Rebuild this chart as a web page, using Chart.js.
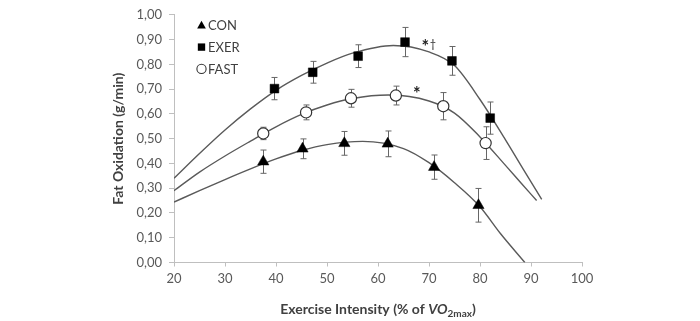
<!DOCTYPE html>
<html>
<head>
<meta charset="utf-8">
<script src="https://cdn.jsdelivr.net/npm/chart.js"></script>
<style>
  html, body { margin: 0; padding: 0; background: #ffffff; }
  #wrap { width: 700px; height: 321px; }
</style>
</head>
<body>
<div id="wrap"><canvas id="c" width="700" height="321"></canvas></div>
<script>
// ---- Data ----
const seriesNames = ['CON', 'EXER', 'FAST'];

const conX   = [37.5, 45.2, 53.4, 61.9, 71.0, 79.7];
const conY   = [0.407, 0.459, 0.481, 0.479, 0.385, 0.231];
const conErr = [0.047, 0.040, 0.048, 0.052, 0.049, 0.068];

const exerX   = [39.7, 47.2, 56.1, 65.3, 74.5, 82.0];
const exerY   = [0.702, 0.768, 0.833, 0.890, 0.814, 0.583];
const exerErr = [0.045, 0.044, 0.046, 0.059, 0.058, 0.065];

const fastX   = [37.5, 45.9, 54.7, 63.5, 72.8, 81.1];
const fastY   = [0.521, 0.606, 0.663, 0.674, 0.631, 0.482];
const fastErr = [0.025, 0.030, 0.036, 0.038, 0.055, 0.066];

// fitted trend curves
const conCurveX  = [20, 25, 30, 35, 40, 45, 50, 57, 65, 70, 75, 80, 84, 88.8];
const conCurveY  = [0.244, 0.290, 0.335, 0.378, 0.418, 0.452, 0.476, 0.489, 0.460, 0.403, 0.322, 0.225, 0.117, 0.0];
const exerCurveX = [20, 25, 30, 35, 40, 45, 50, 55, 63, 70, 75, 80, 85, 88.5, 92.1];
const exerCurveY = [0.340, 0.440, 0.535, 0.620, 0.695, 0.755, 0.805, 0.845, 0.876, 0.850, 0.795, 0.658, 0.495, 0.376, 0.255];
const fastCurveX = [20, 25, 30, 35, 40, 45, 50, 55, 62, 70, 75, 80, 85, 88, 91.1];
const fastCurveY = [0.290, 0.365, 0.430, 0.490, 0.548, 0.598, 0.636, 0.662, 0.676, 0.652, 0.603, 0.507, 0.392, 0.322, 0.250];

// significance marks
const markX    = [69.3, 67.6];
const markY    = [0.877, 0.689];
const markStar = ['*', '*'];
const markSuffix = ['\u2020', ''];

const xTickLabels = ['20', '30', '40', '50', '60', '70', '80', '90', '100'];
const yTickLabels = ['0,00', '0,10', '0,20', '0,30', '0,40', '0,50', '0,60', '0,70', '0,80', '0,90', '1,00'];

const yTitle = 'Fat Oxidation (g/min)';
const xTitleParts = ['Exercise Intensity (% of ', 'VO', '2max', ')'];

// ---- helpers ----
const pts = (xs, ys) => xs.map((x, i) => ({ x: x, y: ys[i] }));
const TXT = '#595959';
const DARK = '#404040';
const LINE = '#5a5a5a';
const AXIS = '#bfbfbf';
const FONT = 'Lato, "Open Sans", sans-serif';

const markerSets = [
  { name: seriesNames[0], x: conX,  y: conY,  err: conErr,  style: 'triangle', radius: 6.5, fill: '#000000', stroke: '#000000' },
  { name: seriesNames[1], x: exerX, y: exerY, err: exerErr, style: 'rect',     radius: 6.2, fill: '#000000', stroke: '#000000' },
  { name: seriesNames[2], x: fastX, y: fastY, err: fastErr, style: 'circle',   radius: 5.6, fill: '#ffffff', stroke: '#333333' }
];

const curveSets = [
  { x: conCurveX,  y: conCurveY },
  { x: exerCurveX, y: exerCurveY },
  { x: fastCurveX, y: fastCurveY }
];

const datasets = [];
markerSets.forEach(m => datasets.push({
  label: m.name,
  data: pts(m.x, m.y),
  showLine: false,
  pointStyle: m.style,
  pointRadius: m.radius,
  pointHoverRadius: m.radius,
  pointBackgroundColor: m.fill,
  pointBorderColor: m.stroke,
  pointBorderWidth: m.style === 'circle' ? 1.2 : 0.5,
  order: 0
}));
curveSets.forEach((c, i) => datasets.push({
  label: seriesNames[i] + ' fit',
  data: pts(c.x, c.y),
  showLine: true,
  pointRadius: 0,
  borderColor: LINE,
  borderWidth: 1.4,
  cubicInterpolationMode: 'monotone',
  fill: false,
  order: 1
}));

// error bars
const errorBars = {
  id: 'errorBars',
  beforeDatasetsDraw(chart) {
    const ctx = chart.ctx, xs = chart.scales.x, ys = chart.scales.y;
    ctx.save();
    ctx.strokeStyle = '#666666';
    ctx.lineWidth = 1;
    markerSets.forEach(m => {
      m.x.forEach((xv, i) => {
        const px = Math.round(xs.getPixelForValue(xv)) + 0.5;
        const t = ys.getPixelForValue(m.y[i] + m.err[i]);
        const b = ys.getPixelForValue(m.y[i] - m.err[i]);
        ctx.beginPath();
        ctx.moveTo(px, t); ctx.lineTo(px, b);
        ctx.moveTo(px - 3, t); ctx.lineTo(px + 3, t);
        ctx.moveTo(px - 3, b); ctx.lineTo(px + 3, b);
        ctx.stroke();
      });
    });
    ctx.restore();
  }
};

function drawShape(ctx, style, x, y, r, fill, stroke) {
  ctx.save();
  ctx.fillStyle = fill; ctx.strokeStyle = stroke; ctx.lineWidth = 1.1;
  ctx.beginPath();
  if (style === 'triangle') {
    ctx.moveTo(x, y - r); ctx.lineTo(x + r * 0.95, y + r * 0.7); ctx.lineTo(x - r * 0.95, y + r * 0.7); ctx.closePath();
    ctx.fill();
  } else if (style === 'rect') {
    ctx.rect(x - r * 0.8, y - r * 0.8, r * 1.6, r * 1.6);
    ctx.fill();
  } else {
    ctx.arc(x, y, r, 0, Math.PI * 2);
    ctx.fill(); ctx.stroke();
  }
  ctx.restore();
}

// legend, titles, significance marks
const extras = {
  id: 'extras',
  afterDraw(chart) {
    const ctx = chart.ctx, a = chart.chartArea, xs = chart.scales.x, ys = chart.scales.y;
    ctx.save();
    // legend inside plot, top-left
    ctx.font = '13px ' + FONT;
    ctx.fillStyle = DARK;
    ctx.textBaseline = 'middle';
    ctx.textAlign = 'left';
    markerSets.forEach((m, i) => {
      const cy = a.top + 10.5 + i * 21.8;
      drawShape(ctx, m.style, a.left + 27.5, cy, 4.6, m.fill === '#ffffff' ? '#ffffff' : '#000000', '#333333');
      ctx.fillStyle = DARK;
      ctx.fillText(m.name, a.left + 34, cy + 0.5);
    });
    // significance marks
    ctx.fillStyle = '#222222';
    ctx.textAlign = 'left';
    markStar.forEach((t, i) => {
      const px = xs.getPixelForValue(markX[i]), py = ys.getPixelForValue(markY[i]);
      ctx.font = 'bold 18px ' + FONT;
      const w = ctx.measureText(t).width;
      ctx.fillText(t, px - w / 2, py + 2);
      if (markSuffix[i]) {
        ctx.font = '11px ' + FONT;
        ctx.fillText(markSuffix[i], px + w / 2 + 0.5, py - 1);
      }
    });
    // y title
    ctx.save();
    ctx.translate(a.left - 56, (a.top + a.bottom) / 2);
    ctx.rotate(-Math.PI / 2);
    ctx.font = 'bold 14px ' + FONT;
    ctx.fillStyle = DARK;
    ctx.textAlign = 'center';
    ctx.fillText(yTitle, 0, 0);
    ctx.restore();
    // x title with italic VO and subscript
    const fN = 'bold 14px ' + FONT, fI = 'italic bold 14px ' + FONT, fS = 'bold 10px ' + FONT;
    const fonts = [fN, fI, fS, fN];
    const widths = xTitleParts.map((p, i) => { ctx.font = fonts[i]; return ctx.measureText(p).width; });
    const total = widths.reduce((s, w) => s + w, 0);
    let x = (a.left + a.right) / 2 - total / 2;
    const y = a.bottom + 47;
    ctx.textAlign = 'left';
    ctx.fillStyle = DARK;
    xTitleParts.forEach((p, i) => {
      ctx.font = fonts[i];
      ctx.fillText(p, x, i === 2 ? y + 4 : y);
      x += widths[i];
    });
    ctx.restore();
  }
};

new Chart(document.getElementById('c'), {
  type: 'scatter',
  data: { datasets: datasets },
  plugins: [errorBars, extras],
  options: {
    responsive: false,
    animation: false,
    events: [],
    layout: { padding: { left: 0, right: 118, top: 6.5, bottom: 0 } },
    plugins: { legend: { display: false }, tooltip: { enabled: false } },
    scales: {
      x: {
        type: 'linear', min: 20, max: 100,
        afterFit: s => { s.height = 58.5; },
        afterBuildTicks: s => { s.ticks = xTickLabels.map(v => ({ value: Number(v) })); },
        ticks: { stepSize: 10, color: TXT, font: { family: FONT, size: 13 }, padding: 5,
                 callback: (v, i) => xTickLabels[i], maxRotation: 0 },
        grid: { display: true, drawOnChartArea: false, drawTicks: true, tickLength: 4, color: AXIS },
        border: { display: true, color: AXIS, width: 1 }
      },
      y: {
        type: 'linear', min: 0, max: 1,
        afterFit: s => { s.width = 174; },
        afterBuildTicks: s => { s.ticks = yTickLabels.map((l, i) => ({ value: i / 10 })); },
        ticks: { color: TXT, font: { family: FONT, size: 13 }, padding: 7,
                 callback: (v, i) => yTickLabels[i] },
        grid: { display: true, drawOnChartArea: false, drawTicks: true, tickLength: 5, color: AXIS },
        border: { display: true, color: AXIS, width: 1 }
      }
    }
  }
});
</script>
</body>
</html>
